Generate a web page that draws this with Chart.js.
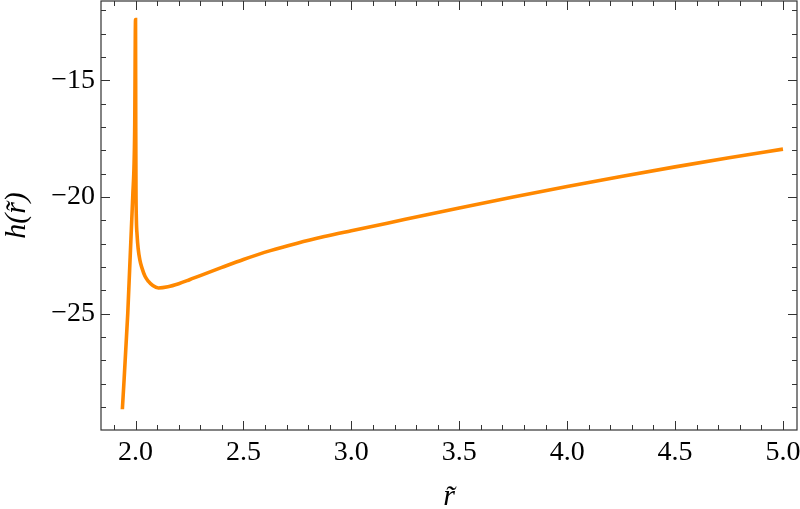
<!DOCTYPE html>
<html>
<head>
<meta charset="utf-8">
<script src="https://cdn.jsdelivr.net/npm/chart.js@4/dist/chart.umd.min.js"></script>
<style>
	html, body { margin: 0; padding: 0; background: #fff; }
	#wrap { width: 800px; height: 509px; }
</style>
</head>
<body>
<div id="wrap"><canvas id="plot"></canvas></div>
<script>
// values
const rValues = [1.939, 1.964, 1.987, 1.996, 2.0, 2.001, 2.002, 2.004, 2.007, 2.012, 2.02, 2.03, 2.044, 2.06, 2.08, 2.106, 2.15, 2.2, 2.25, 2.3, 2.4, 2.5, 2.625, 2.75, 2.875, 3.0, 3.25, 3.5, 3.75, 4.0, 4.25, 4.5, 4.75, 5.0]
const hValues = [-29.1, -25.0, -20.0, -17.2, -12.4, -17.0, -19.6, -21.0, -21.6, -22.2, -22.7, -23.05, -23.4, -23.62, -23.8, -23.9, -23.85, -23.72, -23.55, -23.37, -23.02, -22.68, -22.3, -21.98, -21.7, -21.45, -20.96, -20.47, -20.0, -19.55, -19.12, -18.71, -18.32, -17.95]
const xTickValues = [2.0, 2.5, 3.0, 3.5, 4.0, 4.5, 5.0]
const yTickValues = [-25, -20, -15]

const lineColor = 'rgb(255, 136, 0)'
const frameColor = '#333'

const points = rValues.map((r, i) => ({ x: r, y: hValues[i] }))

// frame with inward ticks on all four sides, like the original
const framePlugin = {
	id: 'frame',
	afterDatasetsDraw(chart) {
		const { ctx, chartArea: a, scales } = chart
		const xs = scales.x
		const ys = scales.y
		ctx.save()
		ctx.strokeStyle = frameColor
		ctx.lineWidth = 1.2
		ctx.strokeRect(a.left, a.top, a.right - a.left, a.bottom - a.top)

		ctx.lineWidth = 1
		ctx.beginPath()
		for (let k = 19; k <= 50; k++) {
			const px = Math.round(xs.getPixelForValue(k / 10)) + 0.5
			const len = k % 5 === 0 ? 9 : 5
			ctx.moveTo(px, a.bottom)
			ctx.lineTo(px, a.bottom - len)
			ctx.moveTo(px, a.top)
			ctx.lineTo(px, a.top + len)
		}
		for (let v = -29; v <= -12; v++) {
			const py = Math.round(ys.getPixelForValue(v)) + 0.5
			const len = v % 5 === 0 ? 9 : 5
			ctx.moveTo(a.left, py)
			ctx.lineTo(a.left + len, py)
			ctx.moveTo(a.right, py)
			ctx.lineTo(a.right - len, py)
		}
		ctx.stroke()
		ctx.restore()
	}
}

new Chart(document.getElementById('plot').getContext('2d'), {
	type: 'scatter',
	data: {
		datasets: [
			{
				data: points,
				showLine: true,
				borderColor: lineColor,
				borderWidth: 3.6,
				pointRadius: 0,
				cubicInterpolationMode: 'monotone',
				fill: false,
			},
		],
	},
	options: {
		responsive: true,
		maintainAspectRatio: false,
		animation: false,
		layout: { padding: { top: 1, right: 3, left: 0, bottom: 0 } },
		plugins: {
			legend: { display: false },
			tooltip: { enabled: false },
		},
		scales: {
			x: {
				type: 'linear',
				min: 1.84,
				max: 5.065,
				grid: { display: false, drawTicks: false },
				border: { display: false },
				afterBuildTicks: scale => {
					scale.ticks = xTickValues.map(v => ({ value: v }))
				},
				afterFit: scale => {
					scale.height = 79
					scale.paddingLeft = 0
					scale.paddingRight = 0
				},
				ticks: {
					padding: 6,
					color: '#000',
					font: { family: 'Liberation Serif', size: 28 },
					callback: v => Number(v).toFixed(1),
				},
				title: {
					display: true,
					text: 'r\u0303',
					color: '#000',
					font: { family: 'Liberation Serif', size: 30, style: 'italic' },
					padding: { top: 0, bottom: -6 },
				},
			},
			y: {
				type: 'linear',
				min: -29.99,
				max: -11.6,
				grid: { display: false, drawTicks: false },
				border: { display: false },
				afterBuildTicks: scale => {
					scale.ticks = yTickValues.map(v => ({ value: v }))
				},
				afterFit: scale => {
					scale.width = 101
					scale.paddingTop = 0
					scale.paddingBottom = 0
				},
				ticks: {
					padding: 6,
					color: '#000',
					font: { family: 'Liberation Serif', size: 28 },
					callback: v => '\u2212' + Math.abs(v),
				},
				title: {
					display: true,
					text: 'h(r\u0303)',
					color: '#000',
					font: { family: 'Liberation Serif', size: 30, style: 'italic' },
					padding: { top: -1, bottom: 0 },
				},
			},
		},
	},
	plugins: [framePlugin],
})
</script>
</body>
</html>
